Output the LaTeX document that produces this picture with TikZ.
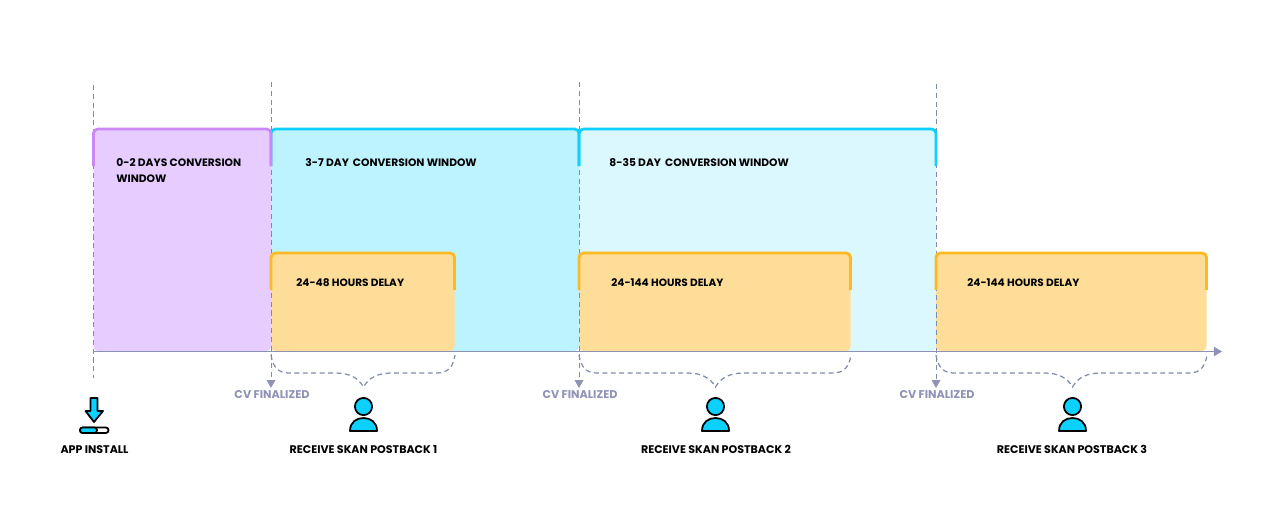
\documentclass[tikz,border=0pt]{standalone}
\usepackage{fontspec}
\setmainfont{Poppins}
\usetikzlibrary{arrows.meta}
\definecolor{purplefill}{HTML}{E6CCFF}
\definecolor{purpleline}{HTML}{CC88F7}
\definecolor{cyanfill}{HTML}{BDF3FF}
\definecolor{cyanpale}{HTML}{DCF8FF}
\definecolor{cyanline}{HTML}{0CD0FF}
\definecolor{orangefill}{HTML}{FEDD98}
\definecolor{orangeline}{HTML}{FDB924}
\definecolor{axisgrey}{HTML}{8F92B5}
\definecolor{dashgrey}{HTML}{7F8CA6}
\tikzset{
  toptrim/.style={line width=1.6pt, rounded corners=2.5pt, line cap=butt},
  panel/.style={rounded corners=2.5pt},
  winlabel/.style={font=\fontsize{6.1}{9.1}\selectfont\bfseries, anchor=west, align=left, inner sep=0pt},
  delaylabel/.style={winlabel, font=\fontsize{6}{9}\selectfont\bfseries},
  botlabel/.style={font=\fontsize{6.3}{9}\selectfont\bfseries, inner sep=0pt},
  cvlabel/.style={font=\fontsize{6.4}{8}\selectfont\bfseries, text=axisgrey, inner sep=0pt},
  guide/.style={dashgrey, line width=0.5pt, dash pattern=on 3pt off 2pt},
  brace/.style={dashgrey, line width=0.7pt, dash pattern=on 2.8pt off 2pt},
  icon/.style={draw=black, line width=1pt, fill=cyanline, line join=round},
}
\begin{document}
\begin{tikzpicture}[x=0.02cm, y=-0.02cm, >={Triangle[length=4.6pt,width=5.2pt]}]
  \useasboundingbox (0,0) rectangle (1280,514);
  % window panels
  \fill[cyanpale, panel] (579,129) -- (936,129) -- (936,351) -- (579,351) -- cycle;
  \fill[cyanfill, panel] (271,129) -- (579,129) -- (579,351) -- (271,351) -- cycle;
  \fill[purplefill, panel] (93.5,129) -- (271,129) -- (271,351) -- (93.5,351) -- cycle;
  \fill[orangefill, panel] (271,253) -- (454.5,253) -- (454.5,351) -- (271,351) -- cycle;
  \fill[orangefill, panel] (579,253) -- (850.5,253) -- (850.5,351) -- (579,351) -- cycle;
  \fill[orangefill, panel] (936,253) -- (1206.5,253) -- (1206.5,351) -- (936,351) -- cycle;
  % dashed guides
  \draw[guide] (93.5,85) -- (93.5,378);
  \draw[guide] (271,82) -- (271,380);
  \draw[guide] (579,82) -- (579,380);
  \draw[guide] (936,84) -- (936,380);
  % top edges
  \draw[toptrim, cyanline] (579,166) -- (579,129) -- (936,129) -- (936,166);
  \draw[toptrim, cyanline] (271,166) -- (271,129) -- (579,129) -- (579,166);
  \draw[toptrim, purpleline] (93.5,166) -- (93.5,129) -- (271,129) -- (271,166);
  \draw[toptrim, orangeline] (271,290) -- (271,253) -- (454.5,253) -- (454.5,290);
  \draw[toptrim, orangeline] (579,290) -- (579,253) -- (850.5,253) -- (850.5,290);
  \draw[toptrim, orangeline] (936,290) -- (936,253) -- (1206.5,253) -- (1206.5,290);
  % time axis
  \draw[->, axisgrey, line width=0.95pt] (93,351.5) -- (1222,351.5);
  % cv markers
  \foreach \px/\name in {271/cva, 579/cvb, 936/cvc}{
    \fill[axisgrey] (\px-4.5,380) -- (\px+4.5,380) -- (\px,388) -- cycle;
    \node[cvlabel] (\name) at (\px+1,394.5) {CV FINALIZED};
  }
  % braces and person icons
  \foreach \xa/\xm/\xb in {271/363.5/455, 579/715.5/851, 936/1072.5/1207}{
    \draw[brace] (\xa,355) .. controls (\xa+2,368) and (\xa+8,373) .. (\xa+18,373) -- (\xm-28,373)
      .. controls (\xm-14,373) and (\xm-5,378) .. (\xm,387)
      .. controls (\xm+5,378) and (\xm+14,373) .. (\xm+28,373) -- (\xb-18,373)
      .. controls (\xb-8,373) and (\xb-2,368) .. (\xb,355);
    \draw[icon] (\xm,406.5) circle (8.6);
    \draw[icon] (\xm-13.5,431) .. controls (\xm-13.5,422) and (\xm-7,418) .. (\xm,418)
      .. controls (\xm+7,418) and (\xm+13.5,422) .. (\xm+13.5,431) -- cycle;
  }
  % install icon
  \draw[icon] (90.5,398) -- (97.5,398) -- (97.5,411) -- (103,411) -- (94,422) -- (85.5,411) -- (90.5,411) -- cycle;
  \draw[icon, fill=white, rounded corners=1.5pt] (80,427.5) rectangle (108.5,433);
  \draw[icon, rounded corners=1.5pt] (80,427.5) rectangle (97,433);
  % labels
  \node[winlabel] (wina) at (116,170.7) {0-2 DAYS CONVERSION\\WINDOW};
  \node[winlabel] (winb) at (305,162.7) {3-7 DAY\, CONVERSION WINDOW};
  \node[winlabel] (winc) at (609,162.7) {8-35 DAY\, CONVERSION WINDOW};
  \node[delaylabel] (dela) at (296,282.7) {24-48 HOURS DELAY};
  \node[delaylabel] (delb) at (611,282.7) {24-144 HOURS DELAY};
  \node[delaylabel] (delc) at (967,282.7) {24-144 HOURS DELAY};
  \node[botlabel] (install) at (94.5,449.7) {APP INSTALL};
  \node[botlabel] (posta) at (363.5,449.7) {RECEIVE SKAN POSTBACK 1};
  \node[botlabel] (postb) at (716,449.7) {RECEIVE SKAN POSTBACK 2};
  \node[botlabel] (postc) at (1072,449.7) {RECEIVE SKAN POSTBACK 3};
\end{tikzpicture}
\end{document}
